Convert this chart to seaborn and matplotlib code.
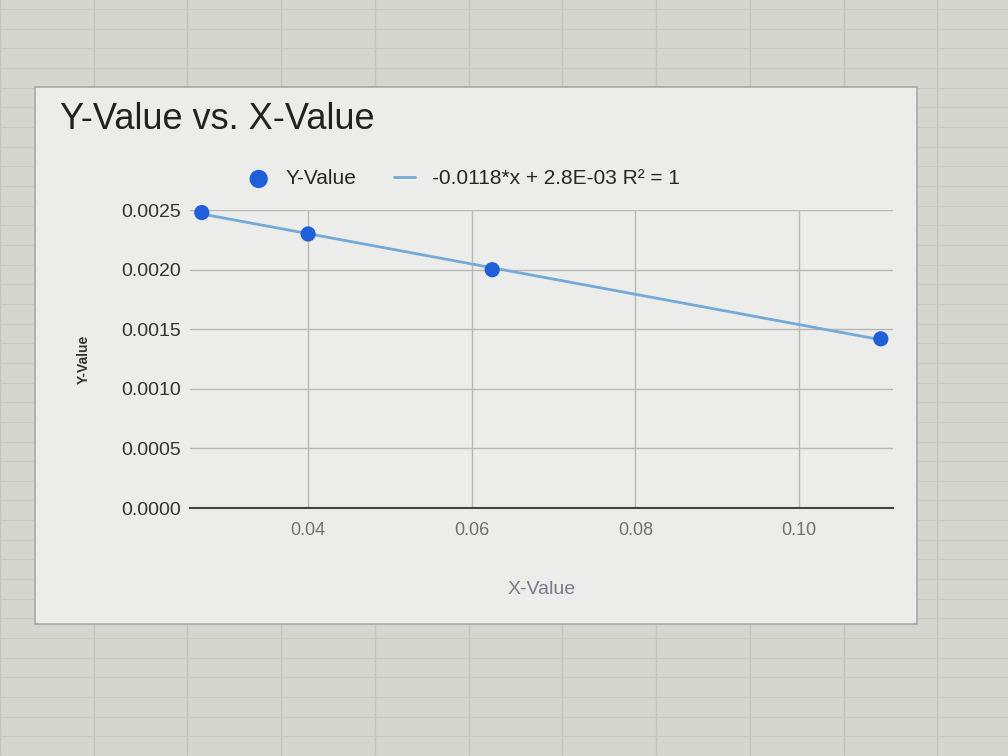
import matplotlib
matplotlib.use("Agg")
import matplotlib.pyplot as plt
import seaborn as sns
import numpy as np
import pandas as pd
from matplotlib.patches import Rectangle

# values
x_values = [0.027, 0.040, 0.0625, 0.110]
y_values = [0.00248, 0.00230, 0.00200, 0.00142]
trend_label = "-0.0118*x + 2.8E-03 R\u00b2 = 1"
x_ticks = [0.04, 0.06, 0.08, 0.10]
x_tick_labels = ["0.04", "0.06", "0.08", "0.10"]
y_ticks = [0.0, 0.0005, 0.0010, 0.0015, 0.0020, 0.0025]
y_tick_labels = ["0.0000", "0.0005", "0.0010", "0.0015", "0.0020", "0.0025"]

POINT_COLOR = "#1f5fd8"
TREND_COLOR = "#74a9d8"
GRID_COLOR = "#b8b8b8"

sns.set_style("white")
plt.rcParams["font.family"] = ["Liberation Sans", "DejaVu Sans"]

df = pd.DataFrame({"X-Value": x_values, "Y-Value": y_values})
# linear trendline fitted to the points, drawn between first and last x
fit = np.polyfit(x_values, y_values, 1)
trend_x = np.array([min(x_values), max(x_values)])
trend_df = pd.DataFrame({"x": trend_x, "y": np.polyval(fit, trend_x)})

fig = plt.figure(figsize=(10.08, 7.56), dpi=100, facecolor="#d6d6d0")

# spreadsheet grid behind the chart
for gx in np.arange(0.0, 1.0, 0.093):
    fig.add_artist(plt.Line2D([gx, gx], [0, 1], color="#c4c4be", lw=1, zorder=0))
for gy in np.arange(0.0, 1.0, 0.026):
    fig.add_artist(plt.Line2D([0, 1], [gy, gy], color="#cacac4", lw=0.8, zorder=0))

# chart card
fig.add_artist(Rectangle((0.035, 0.175), 0.875, 0.71, transform=fig.transFigure,
                         facecolor="#ececea", edgecolor="#a8a8a4", lw=1.2, zorder=1))

ax = fig.add_axes([0.188, 0.328, 0.698, 0.394], zorder=2)
ax.set_facecolor("#ececea")

sns.lineplot(data=trend_df, x="x", y="y", ax=ax, color=TREND_COLOR, lw=2, zorder=3,
             label=trend_label)
sns.scatterplot(data=df, x="X-Value", y="Y-Value", ax=ax, color=POINT_COLOR, s=120,
                edgecolor="none", zorder=4, clip_on=False, label="Y-Value")

ax.set_xlim(0.0255, 0.1115)
ax.set_ylim(0, 0.0025)
ax.set_xticks(x_ticks)
ax.set_xticklabels(x_tick_labels)
ax.set_yticks(y_ticks)
ax.set_yticklabels(y_tick_labels)
ax.grid(True, color=GRID_COLOR, lw=1)
ax.tick_params(axis="x", colors="#707070", labelsize=13, length=0, pad=10)
ax.tick_params(axis="y", colors="#333333", labelsize=14, length=0, pad=6)
for side in ["top", "right", "left"]:
    ax.spines[side].set_visible(False)
ax.spines["bottom"].set_color("#444444")
ax.spines["bottom"].set_linewidth(1.5)

ax.set_xlabel("X-Value", color="#7a7a8a", fontsize=14, labelpad=30)
ax.set_ylabel("Y-Value", color="#333333", fontsize=10, fontweight="bold", labelpad=22)

handles, labels = ax.get_legend_handles_labels()
order = [labels.index("Y-Value"), labels.index(trend_label)]
ax.legend([handles[i] for i in order], [labels[i] for i in order], loc="lower center",
          bbox_to_anchor=(0.39, 1.01), ncol=2, frameon=False, fontsize=15,
          handlelength=1.0, columnspacing=1.8, markerscale=1.2,
          prop={"size": 15, "weight": "medium"})

fig.text(0.060, 0.842, "Y-Value vs. X-Value", fontsize=26, color="#222222", va="center")

fig.savefig("out.png", dpi=100, facecolor=fig.get_facecolor())
